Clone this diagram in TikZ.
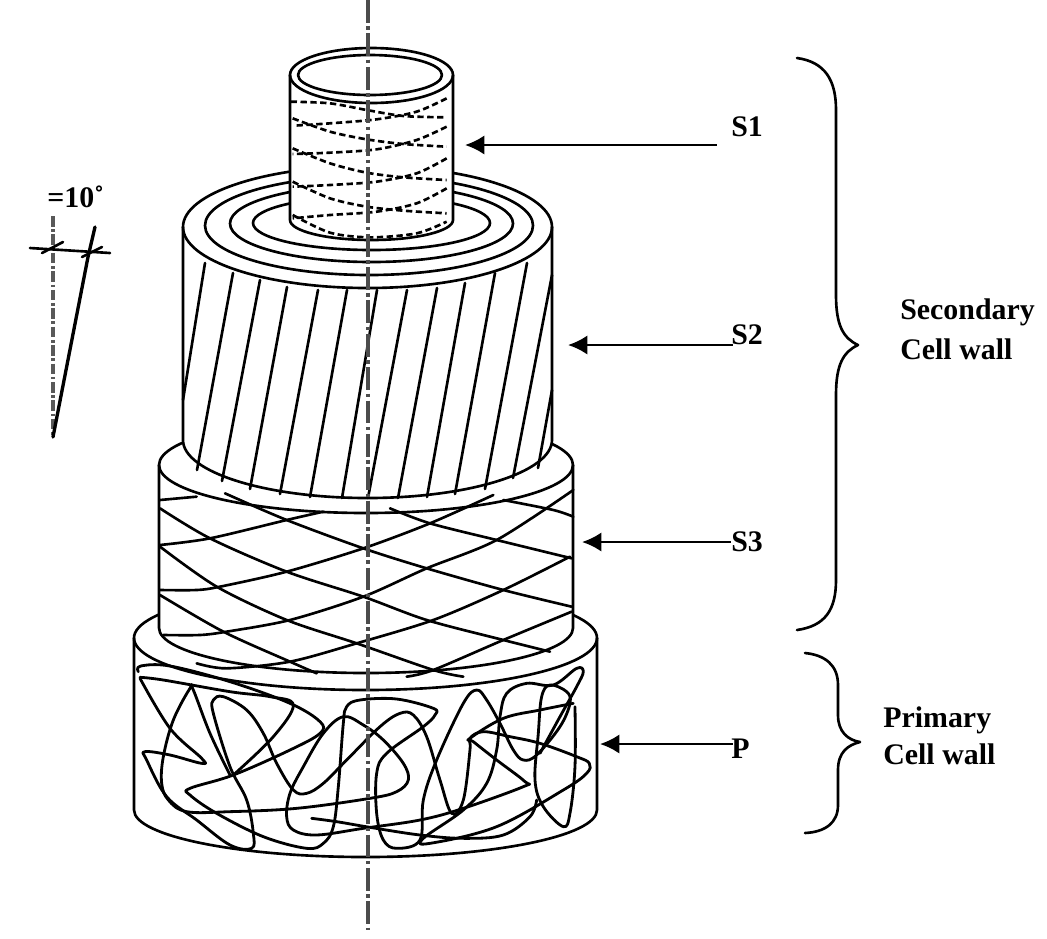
\documentclass[tikz,border=0pt]{standalone}
\usepackage{fontspec}
\setmainfont{Liberation Serif}
\usetikzlibrary{arrows.meta}
\tikzset{
 ln/.style={line width=1.5pt,line join=round,line cap=round},
 body/.style={ln,fill=white},
 axisline/.style={line width=1.8pt,black!70,dash pattern=on 13pt off 2pt on 2pt off 2pt},
 thinaxis/.style={line width=2pt,black!65,dash pattern=on 6pt off 1.5pt on 1.5pt off 1.5pt},
 helix/.style={line width=1.5pt,dash pattern=on 3.6pt off 2pt},
 pointer/.style={line width=1.5pt,{Latex[length=11pt,width=11pt]}-},
 lab/.style={font=\bfseries\fontsize{17}{20}\selectfont,inner sep=0pt},
 z3/.style={x=0.02cm/3,y=-0.02cm/3},
 sm/.style={ln,smooth,tension=0.5},
 scrib/.style={line width=1.6pt,line join=round,line cap=round,smooth,tension=0.6},
 angleln/.style={line width=1.9pt,line cap=round},
}
\begin{document}
\begin{tikzpicture}[x=0.02cm,y=-0.02cm]
\useasboundingbox[fill=white] (0,0) rectangle (1047,938);

% Primary wall
\draw[body] (134,638) -- (134,810) arc[start angle=180,end angle=0,x radius=231.5,y radius=47] -- (597,638) arc[start angle=0,end angle=-180,x radius=231.5,y radius=52] -- cycle;
\draw[ln] (134,638) arc[start angle=180,end angle=0,x radius=231.5,y radius=52];
\begin{scope}[shift={(130,600)},z3]
\draw[scrib] plot coordinates {(25,215)(32,198)(120,198)(300,245)(480,310)(570,365)(570,400)(480,450)(310,525)(180,565)(180,585)(260,640)(400,710)(530,745)(580,730)(610,680)(625,560)(640,370)(650,320)(690,300)(800,297)(910,325)(915,345)(880,380)(770,460)(740,520)(740,640)(760,720)(800,745)(870,720)(880,600)(920,480)(1000,310)(1040,270)(1070,300)(1110,370)(1150,450)(1180,480)(1220,465)(1290,380)(1320,310)(1310,275)(1260,255)(1235,290)(1225,400)(1215,540)(1240,620)(1300,680)(1320,640)(1335,500)(1335,320)};
\draw[scrib] plot coordinates {(30,232)(100,240)(300,275)(420,290)(490,315)(430,410)(310,525)};
\draw[scrib] plot coordinates {(30,235)(120,385)(215,475)(215,490)(120,465)(45,455)(50,480)(110,590)(200,660)(300,735)(365,745)(370,700)(350,600)(300,500)(250,340)(250,300)(280,290)(350,330)(400,400)(440,490)(490,570)(530,580)(580,550)(650,480)(750,380)(810,340)(850,345)(890,410)(930,540)(965,640)(1000,600)(1020,450)(1020,415)(1060,395)(1140,410)(1230,430)(1340,470)(1378,490)(1370,520)(1300,570)(1100,680)(900,730)(880,715)(1000,630)(1070,550)(1100,450)(1110,350)(1130,280)(1190,250)(1270,255)(1340,205)(1360,215)(1340,260)(1290,350)(1230,460)};
\draw[scrib] plot coordinates {(300,525)(240,400)(190,270)(180,265)(130,360)(100,470)(95,550)(115,600)(170,635)(300,635)(500,625)(720,595)(800,575)(835,540)(820,490)(760,420)(700,375)(640,350)(580,400)(520,500)(480,580)(470,650)(490,690)(560,705)(700,685)(870,660)(1000,625)(1180,560)(1185,545)(1100,480)(1030,425)(1020,415)(1120,355)(1230,330)(1330,310)};
\draw[scrib] plot coordinates {(545,655)(620,665)(720,682)(870,705)(1000,715)(1120,705)(1200,650)(1220,600)};
\end{scope}

% S3
\draw[body] (159,465) -- (159,628) arc[start angle=180,end angle=0,x radius=207,y radius=45] -- (573,465) arc[start angle=0,end angle=-180,x radius=207,y radius=48] -- cycle;
\draw[ln] (159,465) arc[start angle=180,end angle=0,x radius=207,y radius=48];
\begin{scope}[shift={(150,440)},z3]
\draw[sm] plot coordinates {(225,160)(410,240)(640,325)(830,385)(1060,450)(1265,500)};
\draw[sm] plot coordinates {(30,205)(180,295)(410,395)(640,470)(830,540)(1060,600)(1200,635)};
\draw[sm] plot coordinates {(30,320)(200,440)(410,540)(620,610)(850,690)(940,710)};
\draw[sm] plot coordinates {(30,465)(220,575)(420,665)(500,700)};
\draw[sm] plot coordinates {(720,205)(840,250)(1040,300)(1265,355)};
\draw[sm] plot coordinates {(1060,180)(1210,210)(1270,230)};
\draw[sm] plot coordinates {(30,180)(140,170)};
\draw[sm] plot coordinates {(30,315)(180,295)(410,240)(520,215)};
\draw[sm] plot coordinates {(30,450)(140,450)(210,440)(410,395)(640,325)(840,250)(1030,165)};
\draw[sm] plot coordinates {(40,585)(150,585)(230,575)(420,540)(640,470)(830,385)(1040,300)(1270,150)};
\draw[sm] plot coordinates {(140,670)(230,685)(420,665)(620,610)(850,540)(1060,450)(1260,350)};
\draw[sm] plot coordinates {(770,710)(850,690)(1060,600)(1265,515)};
\end{scope}

% S2
\draw[body] (183,227) -- (183,440) arc[start angle=180,end angle=0,x radius=184.5,y radius=58] -- (552,227) arc[start angle=0,end angle=-180,x radius=184.5,y radius=61] -- cycle;
\draw[ln] (183,227) arc[start angle=180,end angle=0,x radius=184.5,y radius=61];
\draw[ln] (369,225.5) ellipse[x radius=164,y radius=49.5];
\draw[ln] (371.5,223.5) ellipse[x radius=141.5,y radius=38.5];
\draw[ln] (371.5,223) ellipse[x radius=118.5,y radius=27];
\foreach \xa/\ya/\xb/\yb in {205/263/183/400,233/273/197/470,260/280/222/481,287/287/250/489,318/290/280/494,347/290/310/497,377/290/342/498,407/290/368/498,437/288/398/498,465/283/427/497,495/273/455/494,527/263/485/489,552/275/513/478,552/390/538/468}
  \draw[ln] (\xa,\ya) -- (\xb,\yb);

% S1
\draw[body] (290,75) -- (290,220) arc[start angle=180,end angle=0,x radius=81.5,y radius=20] -- (453,75) arc[start angle=0,end angle=-180,x radius=81.5,y radius=27] -- cycle;
\draw[ln] (290,75) arc[start angle=180,end angle=0,x radius=81.5,y radius=28];
\draw[ln] (370,75) ellipse[x radius=72,y radius=20];
\begin{scope}[shift={(170,40)},z3]
\draw[helix] plot[smooth] coordinates {(362,185)(480,190)(590,210)(700,228)(830,232)};
\draw[helix] plot[smooth] coordinates {(830,175)(740,215)(620,238)(480,250)(370,257)};
\draw[helix] plot[smooth] coordinates {(368,235)(480,275)(590,298)(700,312)(830,320)};
\draw[helix] plot[smooth] coordinates {(830,260)(740,300)(620,328)(480,338)(368,342)};
\draw[helix] plot[smooth] coordinates {(368,325)(480,370)(590,398)(700,412)(830,420)};
\draw[helix] plot[smooth] coordinates {(830,355)(740,400)(620,425)(480,435)(368,440)};
\draw[helix] plot[smooth] coordinates {(368,425)(480,475)(590,500)(700,512)(830,520)};
\draw[helix] plot[smooth] coordinates {(830,445)(740,490)(620,515)(480,525)(368,535)};
\draw[helix] plot[smooth] coordinates {(368,525)(480,578)(600,592)(740,580)(830,545)};
\end{scope}

% Central axis
\coordinate (axtop) at (368,0);
\coordinate (axbot) at (368,930);
\draw[axisline] (axtop) -- (axbot);

% Labels and pointers
\node[lab,anchor=west] (ls1) at (731,127) {S1};
\node[lab,anchor=west] (ls2) at (731,335) {S2};
\node[lab,anchor=west] (ls3) at (731,542) {S3};
\node[lab,anchor=west] (lp) at (731,749) {P};
\coordinate (s1a) at (717,145); \coordinate (s1t) at (465,145);
\coordinate (s2a) at (733,345); \coordinate (s2t) at (568,345);
\coordinate (s3t) at (582,542);
\coordinate (pt) at (600,744);
\coordinate (pa) at (733,744);
\draw[pointer] (s1t) -- (s1a);
\draw[pointer] (s2t) -- (s2a);
\draw[pointer] (s3t) -- (ls3.west);
\draw[pointer] (pt) -- (pa);

% Braces
\draw[ln] (797,58) .. controls (825,62) and (836,80) .. (836,110) -- (836,295) .. controls (836,325) and (843,338) .. (858,345) .. controls (843,352) and (836,365) .. (836,395) -- (836,580) .. controls (836,610) and (825,626) .. (797,630);
\draw[ln] (805,653) .. controls (825,655) and (838,665) .. (838,685) -- (838,715) .. controls (838,732) and (848,740) .. (860,742) .. controls (848,745) and (838,752) .. (838,770) -- (838,805) .. controls (838,823) and (825,832) .. (805,833);
\node[lab,anchor=west] (sec1) at (900,312) {Secondary};
\node[lab,anchor=west] (sec2) at (900,349) {Cell wall};
\node[lab,anchor=west] (pri1) at (883,720) {Primary};
\node[lab,anchor=west] (pri2) at (883,754) {Cell wall};

% Angle figure
\node[lab,anchor=west] (ang) at (47,197) {=10˚};
\draw[thinaxis] (53,216) -- (53,437);
\draw[ln] (30,248) -- (110,253);
\draw[angleln] (53,437) -- (88,257) -- (95,227);
\draw[ln] (42,253) -- (63,242);
\draw[ln] (82,257) -- (102,247);
\end{tikzpicture}
\end{document}
